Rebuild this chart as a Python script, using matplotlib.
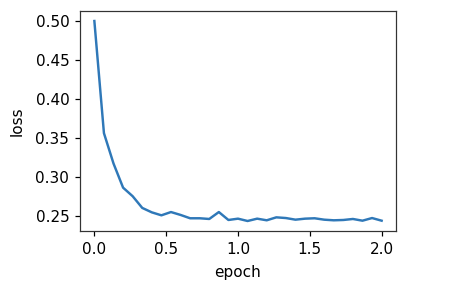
import matplotlib
matplotlib.use("Agg")
import matplotlib.pyplot as plt
import numpy as np

epochs = np.arange(31) / 15.0
loss = [0.500, 0.356, 0.317, 0.286, 0.275, 0.260, 0.2543, 0.2505, 0.2547, 0.251,
        0.2467, 0.2467, 0.2458, 0.2547, 0.2445, 0.2462, 0.2432, 0.2462, 0.2441, 0.2479,
        0.2470, 0.2449, 0.2462, 0.2467, 0.2449, 0.2441, 0.2445, 0.2458, 0.2436, 0.2470,
        0.2436]

DPI = 110
plt.rcParams['font.size'] = 10
fig = plt.figure(figsize=(454/DPI, 286/DPI), dpi=DPI)
ax = fig.add_axes([80/454, (286-231)/286, (396-80)/454, (231-11)/286])
ax.plot(epochs, loss, color='#2f78b8', linewidth=1.6)
ax.set_xlabel('epoch', labelpad=5.5)
ax.set_ylabel('loss', labelpad=7)
ax.set_xticks([0.0, 0.5, 1.0, 1.5, 2.0])
ax.set_yticks([0.25, 0.30, 0.35, 0.40, 0.45, 0.50])
for s in ax.spines.values():
    s.set_color('#333333')
fig.savefig('out.png', dpi=DPI)
